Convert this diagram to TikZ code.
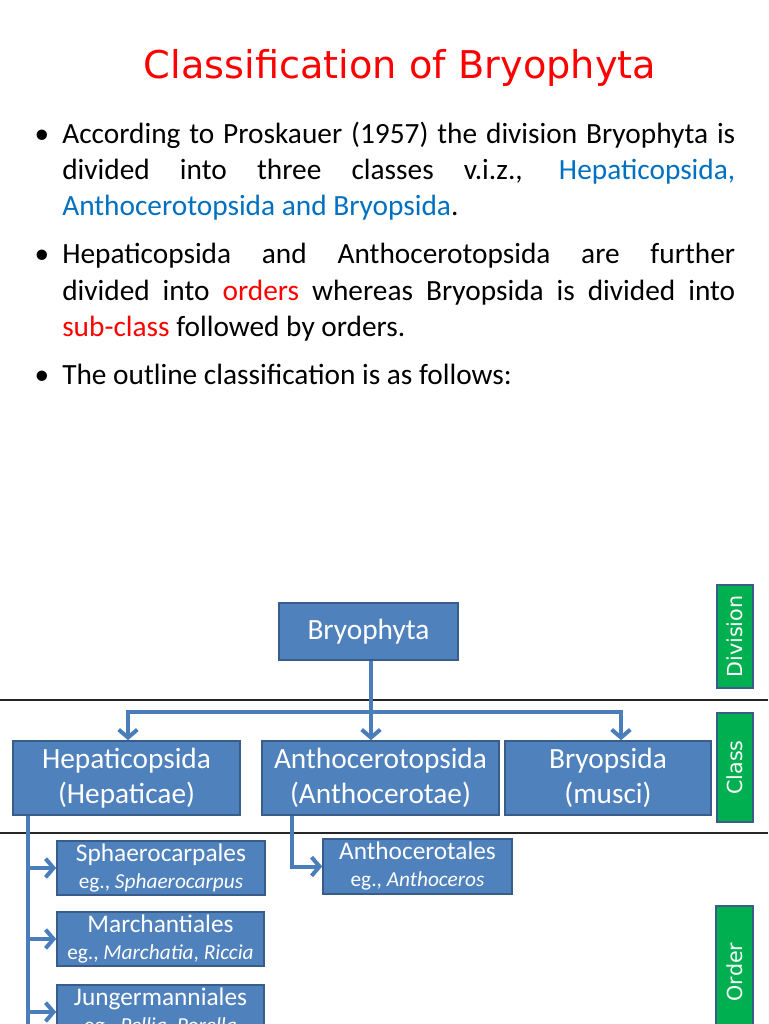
\documentclass[tikz,border=0pt]{standalone}
\usepackage{fontspec}
\setmainfont{Carlito}
\newfontfamily\dvs{DejaVu Sans}
\usetikzlibrary{arrows.meta,calc}
\definecolor{boxfill}{HTML}{4F81BD}
\definecolor{boxline}{HTML}{385D8A}
\definecolor{connc}{HTML}{4A7EBB}
\definecolor{grn}{HTML}{00B050}
\definecolor{blueT}{HTML}{0070C0}
\definecolor{redT}{HTML}{FF0000}
\begin{document}
\begin{tikzpicture}[x=0.75pt,y=-0.75pt,
  bx/.style={draw=boxline, line width=1.2pt, fill=boxfill, text=white, inner sep=0pt, align=center},
  cls/.style={bx, font=\fontsize{22pt}{26.25pt}\selectfont},
  ord/.style={bx, font=\fontsize{19pt}{20.25pt}\selectfont},
  lvl/.style={draw=boxline, line width=1pt, fill=grn, text=white, inner sep=0pt, rotate=90, font=\dvs\fontsize{15.5pt}{18pt}\selectfont},
  link/.style={draw=connc, line width=3pt},
  arr/.style={link, -{Straight Barb[length=6pt,width=14pt]}},
  sepline/.style={draw=black!85, line width=1.1pt},
  body/.style={anchor=base west, inner sep=0pt, font=\fontsize{22pt}{26.4pt}\selectfont},
  bul/.style={anchor=base, inner sep=0pt, font=\fontsize{22pt}{26.4pt}\selectfont}
]
\useasboundingbox (0,0) rectangle (768,1024);
\fill[white] (0,0) rectangle (768,1024);
\clip (0,0) rectangle (768,1024);

% title
\node[anchor=base, text=redT, inner sep=0pt, font=\dvs\fontsize{28.7pt}{34pt}\selectfont] (title) at (400,79) {Classification of Bryophyta};

% bullets
\node[bul] (b1) at (42,143) {•};
\node[body] (l1) at (62,143) {\makebox[504.75pt][s]{According to Proskauer (1957) the division Bryophyta is}};
\node[body] (l2) at (62,179) {\makebox[504.75pt][s]{divided into three classes v.i.z., \textcolor{blueT}{Hepaticopsida,}}};
\node[body] (l3) at (62,215) {\textcolor{blueT}{Anthocerotopsida and Bryopsida}.};
\node[bul] (b2) at (42,263) {•};
\node[body] (l4) at (62,263) {\makebox[504.75pt][s]{Hepaticopsida and Anthocerotopsida are further}};
\node[body] (l5) at (62,300) {\makebox[504.75pt][s]{divided into \textcolor{redT}{orders} whereas Bryopsida is divided into}};
\node[body] (l6) at (62,336) {\textcolor{redT}{sub-class} followed by orders.};
\node[bul] (b3) at (42,384) {•};
\node[body] (l7) at (62,384) {The outline classification is as follows:};

% separators
\coordinate (s1l) at (0,700); \coordinate (s1r) at (768,700);
\coordinate (s2l) at (0,833); \coordinate (s2r) at (768,833);
\draw[sepline] (s1l) -- (s1r);
\draw[sepline] (s2l) -- (s2r);

% level labels
\node[lvl, minimum width=77.25pt, minimum height=27pt] (lvdiv) at (735,636.5) {Division};
\node[lvl, minimum width=81.75pt, minimum height=27pt] (lvcls) at (735,767.5) {Class};
\node[lvl, minimum width=99pt, minimum height=27.75pt] (lvord) at (734.5,972) {Order};

% boxes
\node[cls, minimum width=134.25pt, minimum height=42.75pt] (bryo) at (368.5,631.5) {Bryophyta};
\node[cls, minimum width=170.25pt, minimum height=55.5pt] (hep) at (126.5,778) {\raisebox{-2pt}{\parbox{170pt}{\centering Hepaticopsida\\(Hepaticae)}}};
\node[cls, minimum width=177.75pt, minimum height=55.5pt] (anth) at (380.5,778) {\raisebox{-2pt}{\parbox{177pt}{\centering Anthocerotopsida\\(Anthocerotae)}}};
\node[cls, minimum width=154.5pt, minimum height=55.5pt] (bryop) at (608,778) {\raisebox{-2pt}{\parbox{154pt}{\centering Bryopsida\\(musci)}}};

\node[ord, minimum width=156pt, minimum height=40.5pt] (sph) at (161,868) {Sphaerocarpales\\{\fontsize{16pt}{20.25pt}\selectfont eg., \textit{Sphaerocarpus}}};
\node[ord, minimum width=155.25pt, minimum height=40.5pt] (mar) at (160.5,939) {Marchantiales\\{\fontsize{16pt}{20.25pt}\selectfont eg., \textit{Marchatia}, \textit{Riccia}}};
\node[ord, minimum width=155.25pt, minimum height=40.5pt] (jun) at (160.5,1012) {Jungermanniales\\{\fontsize{16pt}{20.25pt}\selectfont eg., \textit{Pellia}, \textit{Porella}}};
\node[ord, minimum width=141.75pt, minimum height=41.25pt] (ao) at (417.5,866.5) {Anthocerotales\\{\fontsize{16pt}{20.25pt}\selectfont eg., \textit{Anthoceros}}};

% connectors
\coordinate (jL) at (128,712);
\coordinate (jM) at (371,712);
\coordinate (jR) at (621,712);
\draw[arr] (jM |- bryo.south) -- (jM |- anth.north);
\draw[arr] (jM) -- (jL) -- (jL |- hep.north);
\draw[arr] (jM) -- (jR) -- (jR |- bryop.north);

\coordinate (hv) at (28,1040);
\draw[link] (hv |- hep.south) -- (hv);
\draw[arr] (hv |- sph.west) -- (sph.west);
\draw[arr] (hv |- mar.west) -- (mar.west);
\draw[arr] (hv |- jun.west) -- (jun.west);

\coordinate (av) at (292,866);
\draw[arr] (av |- anth.south) -- (av |- ao.west) -- (ao.west);
\end{tikzpicture}
\end{document}
